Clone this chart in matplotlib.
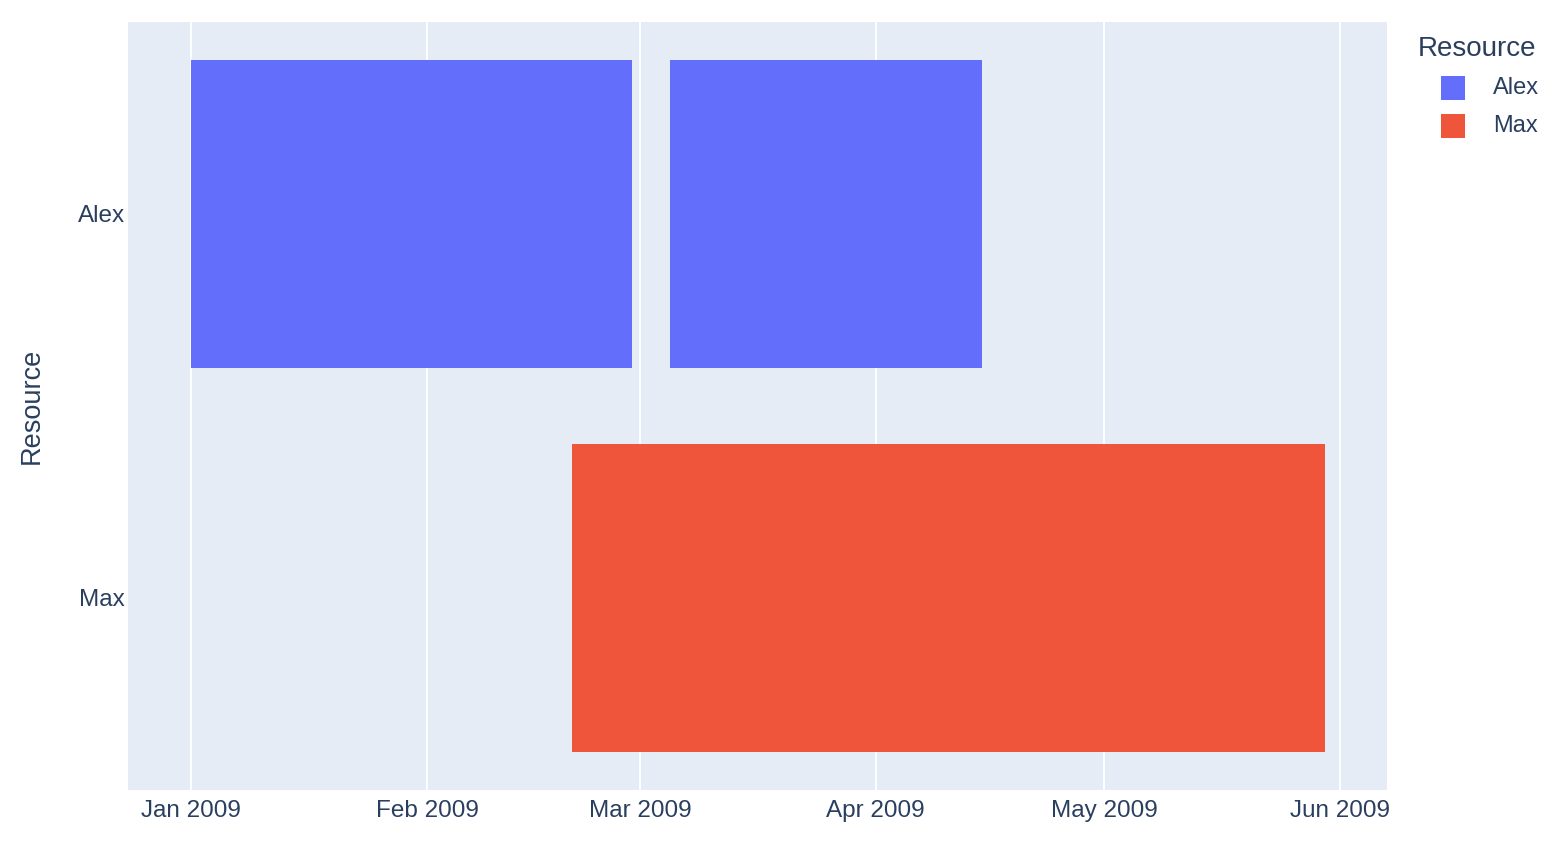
import numpy as np
import pandas as pd
import matplotlib
matplotlib.use("Agg")
import matplotlib.pyplot as plt
import matplotlib.dates as mdates
from matplotlib.patches import Rectangle

# timeline data
tasks = ["Job A", "Job B", "Job C"]
starts = ["2009-01-01", "2009-03-05", "2009-02-20"]
finishes = ["2009-02-28", "2009-04-15", "2009-05-30"]
resources = ["Alex", "Alex", "Max"]

categories = ["Alex", "Max"]
colors = {"Alex": "#636efa", "Max": "#EF553B"}
tick_dates = ["2009-01-01", "2009-02-01", "2009-03-01", "2009-04-01", "2009-05-01", "2009-06-01"]
tick_labels = ["Jan 2009", "Feb 2009", "Mar 2009", "Apr 2009", "May 2009", "Jun 2009"]

txt = "#2a3f5f"
plt.rcParams['font.family'] = ['Liberation Sans', 'DejaVu Sans']

W, H = 1558, 846
fig = plt.figure(figsize=(W / 100, H / 100), dpi=100)
ax = fig.add_axes([128 / W, 1 - 790 / H, (1387 - 128) / W, (790 - 22) / H])
ax.set_facecolor("#E5ECF6")

s = mdates.date2num(pd.to_datetime(starts))
f = mdates.date2num(pd.to_datetime(finishes))
for i in range(len(tasks)):
    y = categories.index(resources[i])
    ax.barh(y, f[i] - s[i], left=s[i], height=0.8, color=colors[resources[i]], zorder=2)

x0 = mdates.date2num(pd.Timestamp("2009-01-01"))
ax.set_xlim(x0 - 8.3, x0 + 157.2)
ax.set_ylim(1.5, -0.5)

ax.set_xticks(mdates.date2num(pd.to_datetime(tick_dates)))
ax.set_xticklabels(tick_labels)
ax.set_yticks(range(len(categories)))
ax.set_yticklabels(categories)
ax.tick_params(axis="both", length=0, labelsize=17.5, labelcolor=txt)
ax.tick_params(axis="x", pad=7)
ax.tick_params(axis="y", pad=2)
ax.grid(axis="x", color="white", linewidth=1.3, zorder=1)
ax.set_axisbelow(True)
for sp in ax.spines.values():
    sp.set_visible(False)

ax.set_ylabel("Resource", fontsize=19.5, color=txt)
ax.yaxis.set_label_coords(-(128 - 45) / (1387 - 128), 0.5)

# legend drawn by hand, plotly style
fig.text(1418 / W, 1 - 49 / H, "Resource", fontsize=20, color=txt, ha="left", va="center")
for k, c in enumerate(categories):
    yc = 88 + 38 * k
    fig.patches.append(Rectangle((1441 / W, 1 - (yc + 12) / H), 24 / W, 24 / H,
                                 transform=fig.transFigure, facecolor=colors[c],
                                 edgecolor="none"))
    fig.text(1493 / W, 1 - yc / H, c, fontsize=17, color=txt, ha="left", va="center")

fig.savefig("out.png", dpi=100)
